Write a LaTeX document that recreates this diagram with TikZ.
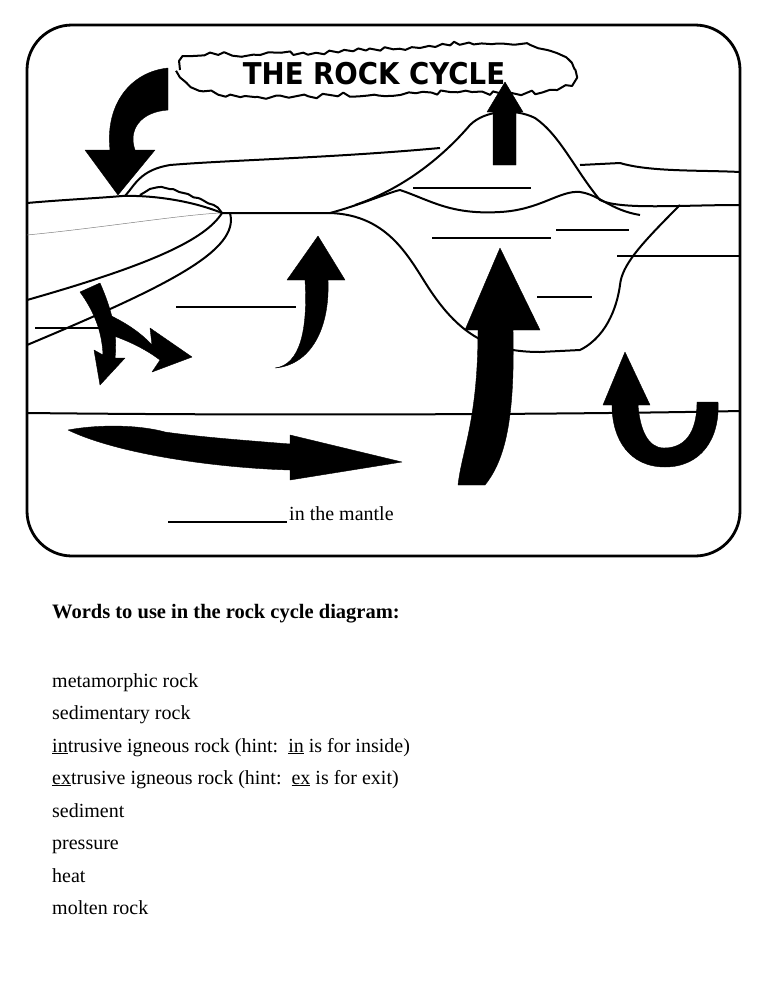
\documentclass[tikz,border=0pt]{standalone}
\usepackage{fontspec}
\setmainfont{Liberation Serif}
\newfontfamily\titlefont{DejaVu Sans}
\usetikzlibrary{decorations.pathmorphing}
\begin{document}
\begin{tikzpicture}[x=1pt,y=-1pt,
  ln/.style={line width=2pt,line join=round},
  blank/.style={line width=2pt},
  blk/.style={fill=black,draw=black,line join=round},
  txt/.style={anchor=base west,font=\fontsize{20}{24}\selectfont,inner sep=0pt}]
\useasboundingbox (0,0) rectangle (768,994);
% frame
\draw[line width=2.8pt,rounded corners=45pt] (27,25) rectangle (740,556);
% cloud
\draw[ln,decorate,decoration={random steps,segment length=7pt,amplitude=2.5pt}]
  (180,70) .. controls (175,50) and (200,55) .. (260,55) -- (420,48) .. controls (480,38) and (570,40) .. (575,70)
  .. controls (580,95) and (520,95) .. (450,92) -- (330,95) .. controls (250,102) and (170,95) .. (180,70);
\node[font=\titlefont\bfseries\fontsize{30}{32}\selectfont,xscale=0.92] (title) at (374,74) {THE ROCK CYCLE};
% landscape lines
\draw[ln] (27,203) .. controls (60,200) and (100,198) .. (122,196) .. controls (150,195) and (190,200) .. (222,213);
\draw[ln] (125,196) .. controls (135,185) and (140,170) .. (170,165) .. controls (230,160) and (330,158) .. (440,148);
\draw[ln] (355,205) .. controls (400,190) and (440,160) .. (470,125) .. controls (485,110) and (515,108) .. (535,118)
  .. controls (560,135) and (575,170) .. (600,200) .. controls (620,210) and (680,205) .. (740,205);
\draw[ln] (580,165) -- (620,163) .. controls (650,172) and (700,170) .. (740,172);
\draw[ln,decorate,decoration={random steps,segment length=6pt,amplitude=2pt}] (140,195) .. controls (160,185) and (185,185) .. (222,213);
\draw[ln] (222,213) -- (330,213) .. controls (360,205) and (390,192) .. (400,190)
  .. controls (430,200) and (450,215) .. (500,212) .. controls (540,210) and (560,190) .. (580,192) .. controls (600,195) and (610,210) .. (640,215);
\draw[ln] (330,213) .. controls (390,215) and (410,260) .. (430,290) .. controls (460,335) and (490,352) .. (540,352)
  -- (580,350) .. controls (610,335) and (618,300) .. (620,285) .. controls (622,265) and (640,245) .. (680,205);
\draw[ln] (222,213) .. controls (205,240) and (150,265) .. (27,300);
\draw[ln] (230,213) .. controls (240,250) and (170,285) .. (27,345);
\draw[line width=0.5pt,gray] (27,235) .. controls (100,228) and (180,215) .. (220,213);
\draw[ln] (27,413) .. controls (300,416) and (600,414) .. (740,411);
% blanks
\foreach \a/\b/\y in {413/531/188,432/551/238,556/629/230,617/740/256,537/592/297,176/296/307,35/110/328,168/287/522}
  \draw[blank] (\a,\y) -- (\b,\y);
\node[txt] (mantle) at (289,520) {in the mantle};
% arrows
\fill[blk] (168,68) -- (168,110) .. controls (140,112) and (128,130) .. (135,150) -- (155,150) -- (118,195) -- (85,150) -- (110,150)
  .. controls (105,105) and (130,72) .. (168,68) -- cycle;
\fill[blk] (493,165) -- (493,112) -- (487,112) -- (505,82) -- (523,112) -- (516,112) -- (516,165) -- cycle;
\fill[blk] (80,292) -- (100,283) .. controls (112,310) and (118,335) .. (115,358) -- (125,358) -- (100,385) -- (94,350) -- (103,355)
  .. controls (102,330) and (93,310) .. (80,292) -- cycle;
\fill[blk] (103,312) .. controls (125,322) and (140,332) .. (152,345) -- (150,328) -- (192,357) -- (152,372) -- (160,360)
  .. controls (140,345) and (120,338) .. (103,332) -- cycle;
\fill[blk] (275,368) .. controls (300,365) and (308,330) .. (305,280) -- (287,280) -- (318,236) -- (345,280) -- (328,280)
  .. controls (330,330) and (310,365) .. (275,368) -- cycle;
\fill[blk] (458,485) .. controls (462,450) and (478,420) .. (478,330) -- (465,330) -- (500,248) -- (540,330) -- (513,330)
  .. controls (515,420) and (505,460) .. (485,485) -- cycle;
\fill[blk] (68,430) .. controls (100,424) and (140,425) .. (165,432) .. controls (200,437) and (240,440) .. (290,444) -- (290,435) -- (402,462) -- (290,480) -- (290,470)
  .. controls (220,468) and (120,455) .. (68,430) -- cycle;
\fill[blk] (612,405) -- (603,405) -- (625,352) -- (650,405) -- (638,405) .. controls (640,430) and (648,448) .. (664,448)
  .. controls (690,448) and (697,425) .. (697,402) -- (718,402) .. controls (720,440) and (700,467) .. (665,467)
  .. controls (630,467) and (612,440) .. (612,405) -- cycle;
% word list
\node[txt,font=\bfseries\fontsize{20.5}{24}\selectfont] (head) at (52,618) {Words to use in the rock cycle diagram:};
\node[txt] (w1) at (52,687) {metamorphic rock};
\node[txt] (w2) at (52,719) {sedimentary rock};
\node[txt] (w3) at (52,752) {\underline{in}trusive igneous rock (hint:\ \ \underline{in} is for inside)};
\node[txt] (w4) at (52,784) {\underline{ex}trusive igneous rock (hint:\ \ \underline{ex} is for exit)};
\node[txt] (w5) at (52,817) {sediment};
\node[txt] (w6) at (52,849) {pressure};
\node[txt] (w7) at (52,882) {heat};
\node[txt] (w8) at (52,914) {molten rock};
\end{tikzpicture}
\end{document}
